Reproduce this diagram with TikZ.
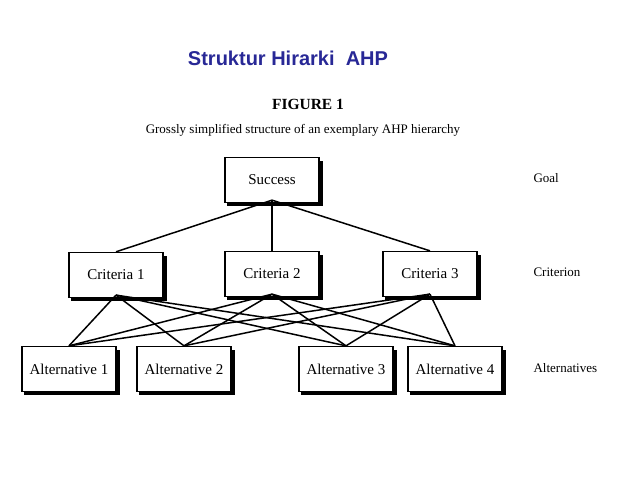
\documentclass[tikz,border=0pt]{standalone}
\usepackage{fontspec}
\setmainfont{Liberation Serif}
\newfontfamily\titlefont{Liberation Sans}
\definecolor{titleblue}{RGB}{40,40,150}
\begin{document}
\begin{tikzpicture}[x=1pt,y=-1pt,
  box/.style={draw,line width=1.3pt,fill=white,minimum width=94pt,minimum height=45pt,font=\fontsize{15}{17}\selectfont,inner sep=0pt},
  shd/.style={fill=black},
  conn/.style={line width=1.5pt},
  lab/.style={font=\fontsize{13}{15}\selectfont,anchor=west}]
\useasboundingbox (0,0) rectangle (638,478);
\node[font=\titlefont\bfseries\fontsize{20}{24}\selectfont,text=titleblue] (title) at (288,58) {Struktur Hirarki\ \ AHP};
\node[font=\bfseries\fontsize{15.5}{18}\selectfont] (fig) at (308,104) {FIGURE 1};
\node[font=\fontsize{13}{15}\selectfont] (sub) at (303,130) {Grossly simplified structure of an exemplary AHP hierarchy};
\foreach \n/\x/\y in {s/272/180, c1/116/275, c2/272/274, c3/430/274, a1/69/369, a2/184/369, a3/346/369, a4/455/369}{
  \fill[shd] (\x-45,\y-19) rectangle (\x+51,\y+26);
}
\node[box] (s) at (272,180) {Success};
\node[box] (c1) at (116,275) {Criteria 1};
\node[box] (c2) at (272,274) {Criteria 2};
\node[box] (c3) at (430,274) {Criteria 3};
\node[box] (a1) at (69,369) {Alternative 1};
\node[box] (a2) at (184,369) {Alternative 2};
\node[box] (a3) at (346,369) {Alternative 3};
\node[box] (a4) at (455,369) {Alternative 4};
\foreach \c in {c1,c2,c3}{\draw[conn] ([yshift=3pt]s.south) -- (\c.north);}
\foreach \c in {c1,c2,c3}{\foreach \a in {a1,a2,a3,a4}{\draw[conn] ([yshift=3pt]\c.south) -- (\a.north);}}
\node[lab] (g) at (530,178) {Goal};
\node[lab] (cr) at (530,272) {Criterion};
\node[lab] (al) at (530,368) {Alternatives};
\end{tikzpicture}
\end{document}
